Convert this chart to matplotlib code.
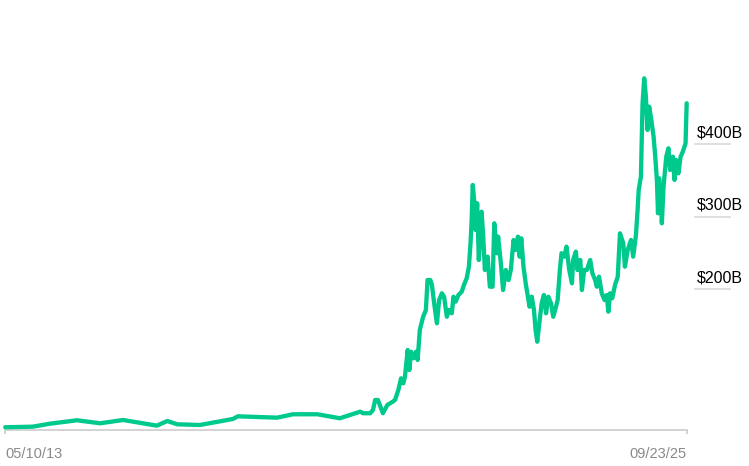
import numpy as np
import matplotlib
matplotlib.use("Agg")
from matplotlib import pyplot as plt
import matplotlib.transforms as mtransforms

# decimal year -> value in billions of dollars
years = [2013.36, 2013.86, 2014.17, 2014.66, 2015.08, 2015.50, 2016.11, 2016.30, 2016.48,
         2016.89, 2017.49, 2017.58, 2018.29, 2018.58, 2019.02, 2019.43, 2019.80, 2019.85,
         2019.98, 2020.03, 2020.07, 2020.12, 2020.21, 2020.29, 2020.39,
         2020.43, 2020.49, 2020.54, 2020.58, 2020.61, 2020.66, 2020.69, 2020.72, 2020.76,
         2020.81, 2020.84, 2020.88, 2020.94, 2020.99, 2021.02, 2021.07, 2021.10, 2021.14,
         2021.19, 2021.23, 2021.28, 2021.32, 2021.37, 2021.41, 2021.46, 2021.49, 2021.53,
         2021.58, 2021.64, 2021.68, 2021.73, 2021.77, 2021.80, 2021.82, 2021.84, 2021.87,
         2021.89, 2021.92, 2021.95, 2022.00, 2022.03, 2022.06, 2022.11, 2022.15, 2022.20,
         2022.23, 2022.28, 2022.30, 2022.35, 2022.39, 2022.44, 2022.49, 2022.53, 2022.58,
         2022.62, 2022.66, 2022.69, 2022.72, 2022.76, 2022.80, 2022.84, 2022.87, 2022.91,
         2022.95, 2022.98, 2023.01, 2023.04, 2023.09, 2023.13, 2023.17, 2023.21, 2023.26,
         2023.30, 2023.35, 2023.38, 2023.42, 2023.45, 2023.50, 2023.54, 2023.59, 2023.64,
         2023.66, 2023.71, 2023.74, 2023.79, 2023.82, 2023.86, 2023.91, 2023.97, 2024.01,
         2024.06, 2024.09, 2024.13, 2024.18, 2024.23, 2024.27, 2024.30, 2024.33, 2024.37,
         2024.42, 2024.47, 2024.51, 2024.57, 2024.60, 2024.65, 2024.71, 2024.75, 2024.80,
         2024.83, 2024.85, 2024.89, 2024.92, 2024.95, 2024.98, 2025.01, 2025.04, 2025.07,
         2025.12, 2025.15, 2025.18, 2025.20, 2025.22, 2025.26, 2025.27, 2025.30, 2025.35,
         2025.39, 2025.42, 2025.47, 2025.50, 2025.53, 2025.57, 2025.61, 2025.65, 2025.70,
         2025.72]
values = [9.7, 10.5, 14.6, 19.3, 15.2, 19.7, 11.9, 18.3, 13.8,
          12.8, 21.1, 24.8, 22.9, 27.6, 27.6, 22.1, 31.2, 29.0,
          29.0, 33.5, 47.3, 47.3, 29.0, 40.4, 45.0,
          47.3, 61.1, 77.2, 70.3, 79.4, 116.3, 88.7, 113.9, 104.8,
          113.9, 102.5, 143.9, 162.2, 171.4, 212.8, 212.8, 205.9, 180.7,
          153.1, 185.2, 194.5, 189.8, 162.2, 171.4, 166.9, 189.8, 182.9,
          192.1, 196.7, 205.9, 215.2, 231.2, 263.4, 295.6, 343.9, 318.6,
          281.8, 318.6, 240.4, 307.0, 272.6, 226.6, 245.0, 203.6, 203.6,
          291.0, 249.7, 272.6, 235.9, 199.0, 226.6, 212.8, 226.6, 268.0,
          254.2, 272.6, 245.0, 270.3, 231.2, 208.3, 189.8, 176.0, 189.8,
          171.4, 143.9, 127.7, 148.4, 180.7, 192.1, 166.9, 189.8, 180.7,
          162.2, 176.0, 185.2, 226.6, 249.7, 245.0, 258.8, 226.6, 208.3,
          240.4, 251.9, 226.6, 240.4, 199.0, 226.6, 226.6, 240.4, 222.1,
          212.8, 203.6, 217.4, 194.5, 185.2, 192.1, 169.1, 194.5, 187.6,
          205.9, 217.4, 277.2, 263.4, 231.2, 254.2, 268.0, 245.0, 274.9,
          309.4, 337.0, 355.3, 456.6, 491.0, 465.7, 419.7, 451.9, 438.1,
          410.5, 382.9, 350.8, 304.8, 353.1, 309.4, 291.0, 341.5, 382.9,
          394.5, 364.6, 382.9, 350.8, 378.3, 360.0, 382.9, 389.8, 401.4,
          456.6]

grid_vals = [200, 300, 400]
grid_labels = ["$200B", "$300B", "$400B"]
start_label = "05/10/13"
end_label = "09/23/25"

plt.rcParams['font.family'] = ['Liberation Sans', 'DejaVu Sans']

W, H = 749, 466
fig = plt.figure(figsize=(W / 100, H / 100), dpi=100)
ax = fig.add_axes([5 / W, (H - 430) / H, 682 / W, 370 / H])

ax.plot(years, values, color='#00c98d', lw=3.1, solid_joinstyle='round',
        solid_capstyle='round', clip_on=False, zorder=3)

ax.set_xlim(2013.356, 2025.726)
ax.set_ylim(5.9, 516.3)

for s in ['top', 'right', 'left']:
    ax.spines[s].set_visible(False)
ax.spines['bottom'].set_color('#cccccc')
ax.spines['bottom'].set_linewidth(1.2)
ax.set_yticks([])
ax.set_xticks([2013.356, 2025.726])
ax.set_xticklabels([start_label, end_label])
ax.tick_params(axis='x', colors='#cccccc', length=3, width=1.2, labelsize=10.5,
               labelcolor='#8a8a8a', pad=9)
lbls = ax.get_xticklabels()
lbls[0].set_ha('left')
lbls[1].set_ha('right')

# short gridlines and labels to the right of the plot
tr = mtransforms.blended_transform_factory(ax.transAxes, ax.transData)
for v, lab in zip(grid_vals, grid_labels):
    ax.plot([1.0117, 1.063], [v, v], transform=tr, color='#d9d9d9', lw=1.2,
            clip_on=False)
    ax.annotate(lab, xy=(1.0147, v), xycoords=tr, xytext=(0, 5),
                textcoords='offset points', ha='left', va='baseline',
                fontsize=11.5, color='#000000')

fig.savefig('out.png', dpi=100)
